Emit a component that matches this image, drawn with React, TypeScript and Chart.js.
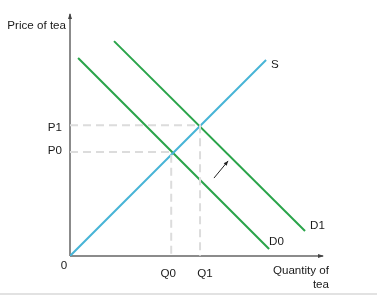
import React, { useEffect, useRef } from "react";
import { Chart, registerables } from "chart.js";

Chart.register(...registerables);

const SUPPLY_X = [0, 7.75];
const SUPPLY_Y = [0, 8.1];
const D0_X = [0.32, 7.87];
const D0_Y = [8.18, 0.29];
const D1_X = [1.74, 9.29];
const D1_Y = [8.88, 1.03];
const Q_VALUES = [4.0, 5.14];
const P_VALUES = [4.3, 5.4];
const Q_LABELS = ["Q0", "Q1"];
const P_LABELS = ["P0", "P1"];
const CURVE_LABELS = ["S", "D0", "D1"];
const SHIFT_ARROW_X = [5.69, 6.25];
const SHIFT_ARROW_Y = [3.22, 3.93];
const Y_TITLE = "Price of tea";
const X_TITLE = ["Quantity of", "tea"];
const ORIGIN_LABEL = "0";

const pts = (xs: number[], ys: number[]) => xs.map((x, i) => ({ x, y: ys[i] }));

const BLUE = "#47b4d6";
const GREEN = "#2aa44a";
const DASH = "#dcdcdc";
const FONT = "11.6px 'Liberation Sans', Arial, sans-serif";

export default function App() {
  const ref = useRef<HTMLCanvasElement | null>(null);

  useEffect(() => {
    if (!ref.current) return;
    const dashed = (i: number) => ({
      data: [
        { x: 0, y: P_VALUES[i] },
        { x: Q_VALUES[i], y: P_VALUES[i] },
        { x: Q_VALUES[i], y: 0 },
      ],
      showLine: true,
      borderColor: DASH,
      borderWidth: 2,
      borderDash: [8, 5],
      pointRadius: 0,
      fill: false,
    });

    const overlay = {
      id: "overlay",
      beforeDatasetsDraw(chart: any) {
        const { ctx, chartArea, scales } = chart;
        const x0 = scales.x.getPixelForValue(0);
        const y0 = scales.y.getPixelForValue(0);
        ctx.save();
        ctx.strokeStyle = "#e2e2e2";
        ctx.lineWidth = 2;
        ctx.beginPath();
        ctx.moveTo(0, chart.height - 1);
        ctx.lineTo(chart.width, chart.height - 1);
        ctx.stroke();
        ctx.strokeStyle = "#666";
        ctx.lineWidth = 1.5;
        ctx.beginPath();
        ctx.moveTo(x0, y0);
        ctx.lineTo(x0, chartArea.top);
        ctx.moveTo(x0, y0);
        ctx.lineTo(chartArea.right, y0);
        ctx.stroke();
        ctx.fillStyle = "#444";
        ctx.beginPath();
        ctx.moveTo(x0, chartArea.top - 1);
        ctx.lineTo(x0 - 2, chartArea.top + 5);
        ctx.lineTo(x0 + 2, chartArea.top + 5);
        ctx.closePath();
        ctx.fill();
        ctx.beginPath();
        ctx.moveTo(chartArea.right + 1, y0);
        ctx.lineTo(chartArea.right - 5, y0 - 2);
        ctx.lineTo(chartArea.right - 5, y0 + 2);
        ctx.closePath();
        ctx.fill();
        ctx.restore();
      },
      afterDatasetsDraw(chart: any) {
        const { ctx, scales } = chart;
        const px = (v: number) => scales.x.getPixelForValue(v);
        const py = (v: number) => scales.y.getPixelForValue(v);
        ctx.save();
        const ax0 = px(SHIFT_ARROW_X[0]), ay0 = py(SHIFT_ARROW_Y[0]);
        const ax1 = px(SHIFT_ARROW_X[1]), ay1 = py(SHIFT_ARROW_Y[1]);
        const ang = Math.atan2(ay1 - ay0, ax1 - ax0);
        ctx.fillStyle = "#222";
        ctx.beginPath();
        ctx.moveTo(ax1, ay1);
        ctx.lineTo(ax1 - 5 * Math.cos(ang - 0.4), ay1 - 5 * Math.sin(ang - 0.4));
        ctx.lineTo(ax1 - 5 * Math.cos(ang + 0.4), ay1 - 5 * Math.sin(ang + 0.4));
        ctx.closePath();
        ctx.fill();

        ctx.font = FONT;
        ctx.fillStyle = "#1a1a1a";
        ctx.textBaseline = "middle";
        ctx.textAlign = "right";
        ctx.fillText(Y_TITLE, 66, 26);
        P_LABELS.forEach((l, i) => {
          ctx.fillText(l, px(0) - 8, py(P_VALUES[i]) + (i === 1 ? 2 : -1));
        });
        ctx.textAlign = "center";
        ctx.fillText(ORIGIN_LABEL, px(0) - 6, py(0) + 10);
        Q_LABELS.forEach((l, i) => {
          ctx.fillText(l, px(Q_VALUES[i]) + (i === 0 ? -3 : 5), py(0) + 18);
        });
        ctx.textAlign = "right";
        ctx.fillText(X_TITLE[0], 329, 271);
        ctx.fillText(X_TITLE[1], 329, 285);
        ctx.textAlign = "left";
        ctx.fillText(CURVE_LABELS[0], px(SUPPLY_X[1]) + 5, py(SUPPLY_Y[1]) + 5);
        ctx.fillText(CURVE_LABELS[1], px(D0_X[1]), py(D0_Y[1]) - 7);
        ctx.fillText(CURVE_LABELS[2], px(D1_X[1]) + 5, py(D1_Y[1]) - 5);
        ctx.restore();
      },
    };

    const chart = new Chart(ref.current, {
      type: "scatter",
      data: {
        datasets: [
          dashed(0),
          dashed(1),
          { data: pts(SUPPLY_X, SUPPLY_Y), showLine: true, borderColor: BLUE, borderWidth: 2, pointRadius: 0 },
          { data: pts(D0_X, D0_Y), showLine: true, borderColor: GREEN, borderWidth: 2, pointRadius: 0 },
          { data: pts(D1_X, D1_Y), showLine: true, borderColor: GREEN, borderWidth: 2, pointRadius: 0 },
          { data: pts(SHIFT_ARROW_X, SHIFT_ARROW_Y), showLine: true, borderColor: "#222", borderWidth: 1, pointRadius: 0 },
        ] as any,
      },
      options: {
        animation: false,
        responsive: false,
        devicePixelRatio: 1,
        layout: { padding: { left: 70, right: 54, top: 14, bottom: 39 } },
        plugins: { legend: { display: false }, tooltip: { enabled: false } },
        scales: {
          x: { type: "linear", min: 0, max: 10, display: false },
          y: { type: "linear", min: 0, max: 10, display: false },
        },
        elements: { line: { tension: 0 } },
      } as any,
      plugins: [overlay],
    });
    return () => chart.destroy();
  }, []);

  return (
    <div style={{ position: "fixed", left: 0, top: 0, width: 377, height: 295, background: "#fff" }}>
      <canvas ref={ref} width={377} height={295} style={{ display: "block" }} />
    </div>
  );
}
